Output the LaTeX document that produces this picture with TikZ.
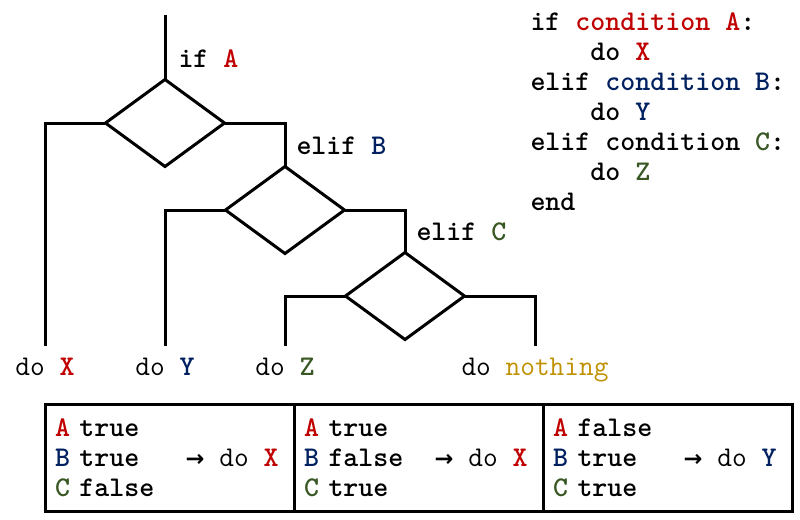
\documentclass[tikz,border=0pt]{standalone}
\usepackage{fontspec}
\newfontfamily\arrowfont{DejaVu Sans}
\usetikzlibrary{shapes.geometric,positioning}
\definecolor{cA}{HTML}{C00000}
\definecolor{cB}{HTML}{002060}
\definecolor{cC}{HTML}{385723}
\definecolor{cN}{HTML}{BF9000}
\newcommand{\codefont}{\ttfamily\fontsize{20.3}{21.3}\selectfont}
\newcommand{\toarrow}{{\arrowfont\bfseries\fontsize{16}{16}\selectfont →}}
\begin{document}
\begin{tikzpicture}[x=0.25mm,y=-0.25mm,line width=0.75mm,
	decision/.style={diamond,draw,inner sep=0pt,outer sep=0pt,minimum width=29.75mm,minimum height=21.75mm},
	outlabel/.style={font=\codefont,anchor=base,text height=13.4pt,text depth=3pt,inner xsep=0pt,inner ysep=6.5pt},
	cond/.style={font=\codefont\bfseries,anchor=base west,inner sep=0pt},
	casebox/.style={draw,font=\codefont\bfseries,align=left,outer sep=0pt,inner xsep=2.5mm,text width=57.25mm,minimum height=26.75mm},
	result/.style={font=\codefont\bfseries,anchor=east,inner sep=0pt}]
	\useasboundingbox (0,0) rectangle (800,519);

	\coordinate (start) at (165,15);%Eingang
	\node[decision] (condA) at (165,123) {};
	\node[decision] (condB) at (285,210) {};
	\node[decision] (condC) at (405,296) {};

	\node[cond] (ifA) at (177,67) {if \textcolor{cA}{A}};
	\node[cond] (elifB) at (295,154) {elif \textcolor{cB}{B}};
	\node[cond] (elifC) at (415,240) {elif \textcolor{cC}{C}};

	\node[outlabel] (doX) at (45,375) {do \textbf{\textcolor{cA}{X}}};
	\node[outlabel] (doY) at (165,375) {do \textbf{\textcolor{cB}{Y}}};
	\node[outlabel] (doZ) at (285,375) {do \textbf{\textcolor{cC}{Z}}};
	\node[outlabel] (doN) at (535,375) {do \textcolor{cN}{nothing}};

	\draw (start) -- (condA.north);
	\draw (condA.west) -| (doX.north);%links
	\draw (condA.east) -| (condB.north);%rechts
	\draw (condB.west) -| (doY.north);
	\draw (condB.east) -| (condC.north);
	\draw (condC.west) -| (doZ.north);
	\draw (condC.east) -| (doN.north);

	%Code
	\foreach \codeline [count=\i] in {{if \textcolor{cA}{condition A}:},{\hphantom{elif}do \textcolor{cA}{X}},{elif \textcolor{cB}{condition B}:},{\hphantom{elif}do \textcolor{cB}{Y}},{elif condition \textcolor{cC}{C}:},{\hphantom{elif}do \textcolor{cC}{Z}},{end}}
		\node[cond] (code\i) at (529,{30+30.15*(\i-1)}) {\codeline};

	%Faelle
	\node[casebox,anchor=north west] (case1) at (45,404) {\textcolor{cA}{A} true\\\textcolor{cB}{B} true\\\textcolor{cC}{C} false};
	\node[casebox,right=0pt of case1] (case2) {\textcolor{cA}{A} true\\\textcolor{cB}{B} false\\\textcolor{cC}{C} true};
	\node[casebox,right=0pt of case2] (case3) {\textcolor{cA}{A} false\\\textcolor{cB}{B} true\\\textcolor{cC}{C} true};
	\node[result] (res1) at ([xshift=-3.5mm]case1.east) {\toarrow{} \mdseries do \bfseries\textcolor{cA}{X}};
	\node[result] (res2) at ([xshift=-3.5mm]case2.east) {\toarrow{} \mdseries do \bfseries\textcolor{cA}{X}};
	\node[result] (res3) at ([xshift=-3.5mm]case3.east) {\toarrow{} \mdseries do \bfseries\textcolor{cB}{Y}};
\end{tikzpicture}
\end{document}
